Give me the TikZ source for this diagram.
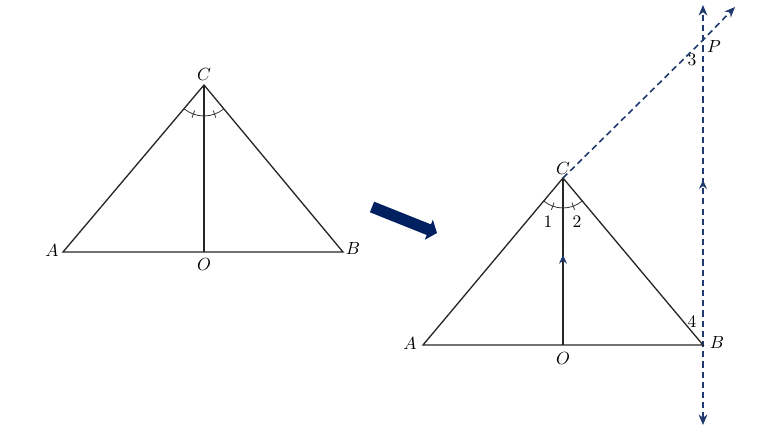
\documentclass[tikz,border=0pt]{standalone}
\usepackage{amsmath,amssymb}
\usepackage[usenames,dvipsnames]{xcolor}
\usetikzlibrary{arrows.meta,calc,decorations.markings}
\definecolor{navy}{RGB}{0,32,96}
\definecolor{dashblue}{RGB}{31,56,110}

\tikzset{
    tri/.style={draw=black!85, line width=0.75pt},
    aux/.style={draw=dashblue, line width=0.9pt, dash pattern=on 3.5pt off 2.3pt},
    midarrow/.style={postaction={decorate},
        decoration={markings, mark=at position #1 with {\arrow{Stealth[length=5pt,width=4.5pt,dashblue]}}}},
    tickarc/.style={draw=black!80, line width=0.45pt, postaction={decorate},
        decoration={markings, mark=at position 0.5 with {\draw (0,-2.2pt) -- (0,2.2pt);}}},
}

\begin{document}
\begin{tikzpicture}[x=0.02cm, y=0.02cm, font=\normalsize]
            \useasboundingbox (0,0) rectangle (768,437);

            % first triangle
            \coordinate (lA) at (63,185);
            \coordinate (lB) at (343,185);
            \coordinate (lC) at (204,352);
            \coordinate (lO) at (204,185);

            % second triangle
            \coordinate (rA) at (423,92);
            \coordinate (rB) at (703,92);
            \coordinate (rC) at (563,259);
            \coordinate (rO) at (563,92);
            \coordinate (rP) at (703,397);
            \coordinate (Pend) at (735,430);
            \coordinate (Lbot) at (703,12);
            \coordinate (Ltop) at (703,432);

            % big arrow
            \coordinate (s) at (372,230);
            \coordinate (e) at (437,204);

            \begin{scope}[every node/.style={inner sep=1pt}]
                \node (lAlab) at (52,187) {$A$};
                \node (lBlab) at (353,189) {$B$};
                \node (lClab) at (204,363) {$C$};
                \node (lOlab) at (204,173) {$O$};
                \node (rAlab) at (410,94) {$A$};
                \node (rBlab) at (717,95) {$B$};
                \node (rClab) at (563,269) {$C$};
                \node (rOlab) at (563,79) {$O$};
                \node (rPlab) at (714,391) {$P$};
                \node (n1) at (548,215) {1};
                \node (n2) at (577,215) {2};
                \node (n3) at (692,377) {3};
                \node (n4) at (692,115) {4};
            \end{scope}

            \draw[tri] (lA) -- (lB) -- (lC) -- cycle;
            \draw[tri] (lC) -- (lO);
            \draw[tickarc] ([shift={(229.8:0.62cm)}]lC) arc[start angle=229.8, end angle=270, radius=0.62cm];
            \draw[tickarc] ([shift={(270:0.62cm)}]lC) arc[start angle=270, end angle=309.8, radius=0.62cm];

            \draw[navy, line width=6.5pt, -{Triangle[length=5pt,width=12pt]}] (s) -- (e);

            \draw[aux, -{Stealth[length=6pt,width=5pt]}] (rC) -- (rP) -- (Pend);
            \draw[aux, {Stealth[length=6pt,width=5pt]}-{Stealth[length=6pt,width=5pt]}, midarrow=0.583] (Lbot) -- (Ltop);

            \draw[tri] (rA) -- (rB) -- (rC) -- cycle;
            \draw[tri, midarrow=0.54] (rO) -- (rC);
            \draw[tickarc] ([shift={(230:0.6cm)}]rC) arc[start angle=230, end angle=270, radius=0.6cm];
            \draw[tickarc] ([shift={(270:0.6cm)}]rC) arc[start angle=270, end angle=310, radius=0.6cm];
\end{tikzpicture}
\end{document}
